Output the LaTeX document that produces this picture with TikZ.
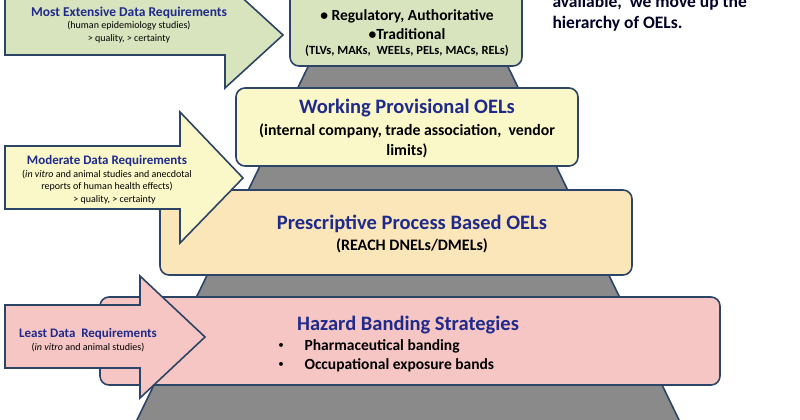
\documentclass[tikz,border=0pt]{standalone}
\usepackage{fontspec}
\setmainfont{Carlito}
\definecolor{bord}{HTML}{2C4466}
\definecolor{ttl}{HTML}{1F2A8A}
\definecolor{gfill}{HTML}{D8E4BE}
\definecolor{yfill}{HTML}{FAF8C8}
\definecolor{ofill}{HTML}{FBE6BA}
\definecolor{pfill}{HTML}{F6C6C4}
\definecolor{pyr}{HTML}{8A8A8A}
\begin{document}
\begin{tikzpicture}[x=1pt,y=-1pt,
  box/.style={draw=bord,line width=1.6pt,rounded corners=9pt},
  arr/.style={draw=bord,line width=1.6pt,line join=miter},
  title/.style={font=\fontsize{20.5}{23}\selectfont\bfseries,text=ttl},
  blt/.style={font=\fontsize{15.5}{17}\selectfont\bfseries},
  small/.style={font=\fontsize{10}{12.5}\selectfont,align=center}]
\useasboundingbox (0,0) rectangle (800,420);
\clip (0,0) rectangle (800,420);
% pyramid
\draw[fill=pyr,draw=bord,line width=1.6pt] (350,-20) -- (466,-20) -- (680,422) -- (136,422) -- cycle;
% hazard
\draw[box,fill=pfill] (100,297) rectangle (720,385);
\draw[arr,fill=pfill] (5,305) -- (140,305) -- (140,276) -- (205,337) -- (140,398) -- (140,368) -- (5,368) -- cycle;
\node[title] (hz) at (408,325) {Hazard Banding Strategies};
\node[font=\fontsize{11}{13}\selectfont] (b1) at (281,346) {•};
\node[blt,anchor=west] (p1) at (301,346) {Pharmaceutical banding};
\node[font=\fontsize{11}{13}\selectfont] (b2) at (281,365) {•};
\node[blt,anchor=west] (p2) at (301,365) {Occupational exposure bands};
\node[font=\fontsize{13}{15}\selectfont\bfseries,text=ttl] (lt) at (88,334) {Least Data \ Requirements};
\node[small] (ls) at (88,348) {(\textit{in vitro} and animal studies)};
% prescriptive
\draw[box,fill=ofill] (160,190) rectangle (632,275);
\node[title] (pr) at (412,224) {Prescriptive Process Based OELs};
\node[font=\fontsize{16}{18}\selectfont\bfseries] (prs) at (412,246) {(REACH DNELs/DMELs)};
% moderate arrow
\draw[arr,fill=yfill] (5,146) -- (180,146) -- (180,112) -- (243,178) -- (180,243) -- (180,209) -- (5,209) -- cycle;
\node[font=\fontsize{13}{15}\selectfont\bfseries,text=ttl] (mt) at (107,161) {Moderate Data Requirements};
\node[small] (ms) at (107,187) {(\textit{in vitro} and animal studies and anecdotal\\reports of human health effects)\\ \quad\enspace > quality, > certainty};
% working
\draw[box,fill=yfill] (236,88) rectangle (578,166);
\node[title] (wk) at (407,108) {Working Provisional OELs};
\node[font=\fontsize{15.8}{20}\selectfont\bfseries,align=center] (wks) at (407,141) {(internal company, trade association, \ vendor\\limits)};
% top
\draw[box,fill=gfill] (290,-30) rectangle (522,66);
\draw[arr,fill=gfill] (5,-20) -- (225,-20) -- (225,-18) -- (283,35) -- (225,88) -- (225,55) -- (5,55) -- cycle;
\node[font=\fontsize{13.5}{15}\selectfont\bfseries,text=ttl] (et) at (129,13) {Most Extensive Data Requirements};
\node[small] (es) at (129,32) {(human epidemiology studies)\\> quality, > certainty};
\node[blt] (r1) at (407,16) {• Regulatory, Authoritative};
\node[blt] (r2) at (407,34) {•Traditional};
\node[font=\fontsize{12.5}{14}\selectfont\bfseries] (r3) at (407,51) {(TLVs, MAKs, \ WEELs, PELs, MACs, RELs)};
\node[font=\fontsize{17.5}{21}\selectfont\bfseries,text=black!85!blue,anchor=north west,align=left] (tr) at (549,-8) {available, \ we move up the\\hierarchy of OELs.};
\end{tikzpicture}
\end{document}
